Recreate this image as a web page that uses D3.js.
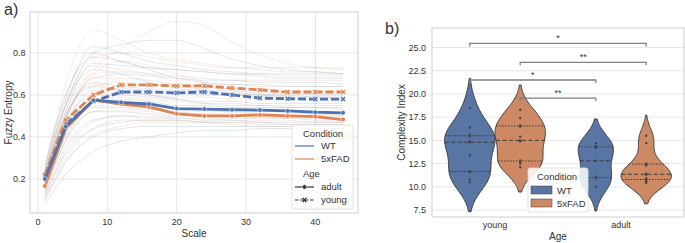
<!DOCTYPE html>
<html>
<head>
<meta charset="utf-8">
<script src="https://cdn.jsdelivr.net/npm/d3@7"></script>
<style>
  body { margin: 0; background: #fff; }
  text { font-family: "Liberation Sans", Arial, sans-serif; fill: #333; }
</style>
</head>
<body>
<script>
var W = 685, H = 243;

// ---------- panel a data ----------
var scales = [1, 4, 8, 12, 16, 20, 24, 28, 32, 36, 40, 44];
var conditions = ["WT", "5xFAD"];
var ages = ["adult", "young"];

// group means (thick lines)
var meanWTadult    = [0.20, 0.45, 0.575, 0.565, 0.557, 0.535, 0.533, 0.530, 0.528, 0.524, 0.518, 0.515];
var meanWTyoung    = [0.22, 0.46, 0.570, 0.614, 0.614, 0.610, 0.614, 0.600, 0.585, 0.582, 0.580, 0.580];
var mean5xFADadult = [0.167, 0.44, 0.576, 0.557, 0.543, 0.510, 0.500, 0.500, 0.505, 0.500, 0.497, 0.483];
var mean5xFADyoung = [0.22, 0.48, 0.600, 0.648, 0.648, 0.643, 0.643, 0.633, 0.624, 0.614, 0.614, 0.614];

// single animals (thin lines)
var subjWT = [
  [0.22, 0.55, 0.80, 0.84, 0.86, 0.86, 0.82, 0.77, 0.74, 0.72, 0.71, 0.70],
  [0.25, 0.58, 0.83, 0.80, 0.76, 0.74, 0.72, 0.71, 0.70, 0.70, 0.70, 0.70],
  [0.20, 0.52, 0.75, 0.74, 0.73, 0.72, 0.71, 0.70, 0.69, 0.68, 0.68, 0.68],
  [0.18, 0.48, 0.68, 0.70, 0.69, 0.68, 0.67, 0.67, 0.66, 0.66, 0.66, 0.65],
  [0.22, 0.50, 0.66, 0.64, 0.63, 0.62, 0.62, 0.62, 0.61, 0.61, 0.60, 0.60],
  [0.17, 0.45, 0.62, 0.63, 0.62, 0.61, 0.60, 0.60, 0.59, 0.59, 0.59, 0.58],
  [0.20, 0.46, 0.60, 0.60, 0.59, 0.58, 0.57, 0.57, 0.56, 0.56, 0.56, 0.56],
  [0.15, 0.42, 0.58, 0.58, 0.57, 0.55, 0.55, 0.54, 0.54, 0.54, 0.54, 0.53],
  [0.19, 0.44, 0.57, 0.56, 0.55, 0.54, 0.53, 0.52, 0.52, 0.52, 0.51, 0.51],
  [0.16, 0.40, 0.54, 0.54, 0.53, 0.52, 0.51, 0.51, 0.50, 0.50, 0.50, 0.50],
  [0.14, 0.38, 0.52, 0.52, 0.51, 0.50, 0.50, 0.49, 0.49, 0.49, 0.48, 0.48],
  [0.13, 0.35, 0.48, 0.50, 0.49, 0.49, 0.48, 0.48, 0.47, 0.47, 0.47, 0.47],
  [0.12, 0.32, 0.44, 0.47, 0.48, 0.48, 0.47, 0.47, 0.46, 0.46, 0.46, 0.46],
  [0.10, 0.28, 0.40, 0.44, 0.45, 0.45, 0.45, 0.45, 0.45, 0.45, 0.44, 0.44],
  [0.08, 0.22, 0.33, 0.38, 0.40, 0.42, 0.43, 0.43, 0.44, 0.44, 0.44, 0.44],
  [0.26, 0.60, 0.78, 0.76, 0.72, 0.68, 0.66, 0.65, 0.65, 0.64, 0.64, 0.64],
  [0.23, 0.55, 0.72, 0.70, 0.66, 0.63, 0.62, 0.61, 0.60, 0.60, 0.59, 0.59],
  [0.21, 0.50, 0.64, 0.62, 0.60, 0.58, 0.56, 0.55, 0.55, 0.54, 0.54, 0.54]
];
var subj5xFAD = [
  [0.24, 0.65, 0.91, 0.86, 0.80, 0.77, 0.75, 0.73, 0.72, 0.71, 0.71, 0.70],
  [0.20, 0.50, 0.72, 0.82, 0.90, 0.95, 0.93, 0.85, 0.79, 0.75, 0.73, 0.72],
  [0.22, 0.55, 0.78, 0.80, 0.78, 0.76, 0.74, 0.73, 0.73, 0.73, 0.73, 0.73],
  [0.27, 0.60, 0.80, 0.76, 0.73, 0.72, 0.71, 0.70, 0.70, 0.69, 0.69, 0.69],
  [0.20, 0.52, 0.70, 0.71, 0.70, 0.69, 0.68, 0.67, 0.67, 0.67, 0.67, 0.67],
  [0.18, 0.48, 0.68, 0.68, 0.67, 0.65, 0.65, 0.65, 0.64, 0.64, 0.64, 0.64],
  [0.17, 0.46, 0.64, 0.66, 0.65, 0.64, 0.63, 0.63, 0.63, 0.62, 0.62, 0.62],
  [0.21, 0.50, 0.65, 0.62, 0.60, 0.59, 0.59, 0.58, 0.58, 0.58, 0.57, 0.57],
  [0.15, 0.42, 0.58, 0.59, 0.58, 0.57, 0.56, 0.56, 0.55, 0.55, 0.55, 0.55],
  [0.16, 0.40, 0.55, 0.55, 0.54, 0.53, 0.52, 0.52, 0.51, 0.51, 0.51, 0.50],
  [0.14, 0.38, 0.52, 0.53, 0.52, 0.51, 0.50, 0.50, 0.49, 0.49, 0.49, 0.49],
  [0.12, 0.33, 0.47, 0.50, 0.50, 0.49, 0.49, 0.48, 0.48, 0.48, 0.47, 0.47],
  [0.10, 0.28, 0.41, 0.45, 0.47, 0.47, 0.47, 0.47, 0.47, 0.46, 0.46, 0.46],
  [0.11, 0.30, 0.44, 0.48, 0.48, 0.48, 0.47, 0.46, 0.45, 0.45, 0.44, 0.44],
  [0.19, 0.49, 0.70, 0.76, 0.74, 0.70, 0.66, 0.62, 0.60, 0.59, 0.58, 0.58],
  [0.23, 0.56, 0.74, 0.72, 0.70, 0.66, 0.62, 0.60, 0.60, 0.60, 0.61, 0.61]
];

var xTicksA = [0, 10, 20, 30, 40];
var yTicksA = [0.2, 0.4, 0.6, 0.8];

// ---------- panel b data ----------
var violinAges = ["young", "adult"];
var ciWTyoung    = [10.5, 10.8, 11.6, 11.7, 13.4, 14.8, 14.9, 15.4, 15.6, 16.4, 18.5];
var ci5xFADyoung = [12.1, 12.5, 12.7, 12.85, 14.9, 15.0, 15.4, 16.5, 16.6, 17.4, 18.3];
var ciWTadult    = [10.0, 10.9, 11.1, 12.8, 14.2, 14.4, 14.7];
var ci5xFADadult = [10.4, 10.6, 10.75, 10.9, 11.3, 11.4, 12.3, 12.5, 14.7, 15.5];
var yTicksB = [7.5, 10.0, 12.5, 15.0, 17.5, 20.0, 22.5, 25.0];

// significance brackets (value level in index units)
var sigFrom  = [["young", "WT"], ["young", "5xFAD"], ["young", "WT"], ["young", "5xFAD"]];
var sigTo    = [["adult", "5xFAD"], ["adult", "5xFAD"], ["adult", "WT"], ["adult", "WT"]];
var sigLevel = [25.44, 23.4, 21.5, 19.56];
var sigText  = ["*", "**", "*", "**"];

var colors = { "WT": "#4c72b0", "5xFAD": "#dd8452" };
var violinColors = { "WT": "#5975a4", "5xFAD": "#cc8963" };

var svg = d3.select("body").append("svg")
    .attr("width", W)
    .attr("height", H);

// ================= panel a =================
var xA = d3.scaleLinear().domain([-1.15, 46.15]).range([30, 358]);
var yA = d3.scaleLinear().domain([0.038, 0.995]).range([213, 12]);

var ga = svg.append("g");

ga.selectAll(".vgrid").data(xTicksA).enter().append("line")
    .attr("x1", d => xA(d)).attr("x2", d => xA(d))
    .attr("y1", 12).attr("y2", 213)
    .attr("stroke", "#e6e6e6").attr("stroke-width", 1);
ga.selectAll(".hgrid").data(yTicksA).enter().append("line")
    .attr("x1", 30).attr("x2", 358)
    .attr("y1", d => yA(d)).attr("y2", d => yA(d))
    .attr("stroke", "#e6e6e6").attr("stroke-width", 1);

var thinLine = d3.line()
    .x((d, i) => xA(scales[i]))
    .y(d => yA(d))
    .curve(d3.curveMonotoneX);

ga.selectAll(".wt").data(subjWT).enter().append("path")
    .attr("d", thinLine)
    .attr("fill", "none").attr("stroke", colors["WT"])
    .attr("stroke-width", 0.8).attr("stroke-opacity", 0.22);
ga.selectAll(".fad").data(subj5xFAD).enter().append("path")
    .attr("d", thinLine)
    .attr("fill", "none").attr("stroke", colors["5xFAD"])
    .attr("stroke-width", 0.8).attr("stroke-opacity", 0.22);

var means = [
  { cond: "WT", age: "young", vals: meanWTyoung },
  { cond: "5xFAD", age: "young", vals: mean5xFADyoung },
  { cond: "5xFAD", age: "adult", vals: mean5xFADadult },
  { cond: "WT", age: "adult", vals: meanWTadult }
];
var meanLine = d3.line()
    .x((d, i) => xA(scales[i]))
    .y(d => yA(d));

var markerCircle = d3.symbol().type(d3.symbolCircle).size(16);
var markerX = d3.symbol().type(d3.symbolCross).size(18);

means.forEach(function (m) {
  ga.append("path")
    .attr("d", meanLine(m.vals))
    .attr("fill", "none")
    .attr("stroke", colors[m.cond])
    .attr("stroke-width", 2.8)
    .attr("stroke-dasharray", m.age == "young" ? "8,3" : null);
  ga.selectAll(null).data(m.vals).enter().append("path")
    .attr("d", m.age == "young" ? markerX : markerCircle)
    .attr("transform", (d, i) => "translate(" + xA(scales[i]) + "," + yA(d) + ")" + (m.age == "young" ? " rotate(45)" : ""))
    .attr("fill", colors[m.cond])
    .attr("stroke", "#fff").attr("stroke-width", 0.5);
});

ga.append("rect")
    .attr("x", 30).attr("y", 12).attr("width", 328).attr("height", 201)
    .attr("fill", "none").attr("stroke", "#cfcfcf").attr("stroke-width", 1);

ga.selectAll(".xt").data(xTicksA).enter().append("text")
    .attr("x", d => xA(d)).attr("y", 225)
    .attr("text-anchor", "middle").attr("font-size", 9)
    .text(d => d);
ga.selectAll(".yt").data(yTicksA).enter().append("text")
    .attr("x", 25.5).attr("y", d => yA(d) + 3.2)
    .attr("text-anchor", "end").attr("font-size", 9)
    .text(d => d3.format(".1f")(d));

ga.append("text").attr("x", 194).attr("y", 237)
    .attr("text-anchor", "middle").attr("font-size", 10).text("Scale");
ga.append("text")
    .attr("transform", "translate(11.5,112.5) rotate(-90)")
    .attr("text-anchor", "middle").attr("font-size", 10).text("Fuzzy Entropy");
ga.append("text").attr("x", 4).attr("y", 15)
    .attr("font-size", 16).attr("fill", "#111").text("a)");

// legend a
var la = ga.append("g");
la.append("rect")
    .attr("x", 292).attr("y", 125).attr("width", 61).attr("height", 84).attr("rx", 2)
    .attr("fill", "#fff").attr("fill-opacity", 0.85)
    .attr("stroke", "#dcdcdc").attr("stroke-width", 0.8);
la.append("text").attr("x", 303).attr("y", 136.5).attr("font-size", 9.5).text("Condition");
conditions.forEach(function (c, i) {
  var y = 146 + i * 13;
  la.append("line").attr("x1", 295).attr("x2", 314).attr("y1", y).attr("y2", y)
    .attr("stroke", colors[c]).attr("stroke-width", 1.2);
  la.append("text").attr("x", 321).attr("y", y + 3.4).attr("font-size", 9.5).text(c);
});
la.append("text").attr("x", 303).attr("y", 176.5).attr("font-size", 9.5).text("Age");
ages.forEach(function (a, i) {
  var y = 187 + i * 13;
  la.append("line").attr("x1", 295).attr("x2", 314).attr("y1", y).attr("y2", y)
    .attr("stroke", "#333").attr("stroke-width", 1.2)
    .attr("stroke-dasharray", a == "young" ? "3.5,1.5" : null);
  la.append("path")
    .attr("d", a == "young" ? markerX : markerCircle)
    .attr("transform", "translate(304.5," + y + ")" + (a == "young" ? " rotate(45)" : ""))
    .attr("fill", "#333").attr("stroke", "#fff").attr("stroke-width", 0.5);
  la.append("text").attr("x", 321).attr("y", y + 3.4).attr("font-size", 9.5).text(a);
});

// ================= panel b =================
var xB = d3.scaleBand().domain(violinAges).range([432, 684]);
var hueB = d3.scaleBand().domain(conditions)
    .range([-xB.bandwidth() * 0.4, xB.bandwidth() * 0.4]);
var yB = d3.scaleLinear().domain([6.75, 27.1]).range([217, 28]);

var gb = svg.append("g");

gb.selectAll(".hgrid").data(yTicksB).enter().append("line")
    .attr("x1", 432).attr("x2", 684)
    .attr("y1", d => yB(d)).attr("y2", d => yB(d))
    .attr("stroke", "#e6e6e6").attr("stroke-width", 1);

function cx(age, cond) {
  return xB(age) + xB.bandwidth() / 2 + hueB(cond) + hueB.bandwidth() / 2;
}

// gaussian kde, scott bandwidth, cut = 2
function kde(vals) {
  var n = vals.length;
  var bw = d3.deviation(vals) * Math.pow(n, -0.2);
  var lo = d3.min(vals) - 2 * bw, hi = d3.max(vals) + 2 * bw;
  return d3.range(100).map(function (i) {
    var y = lo + (hi - lo) * i / 99;
    var dens = d3.mean(vals, v => Math.exp(-0.5 * Math.pow((y - v) / bw, 2))) / (bw * Math.sqrt(2 * Math.PI));
    return [y, dens];
  });
}

function percentile(vals, p) {
  var s = vals.slice().sort(d3.ascending);
  var idx = (s.length - 1) * p, lo = Math.floor(idx), hi = Math.ceil(idx);
  return s[lo] + (s[hi] - s[lo]) * (idx - lo);
}

var groups = [
  { age: "young", cond: "WT", vals: ciWTyoung },
  { age: "young", cond: "5xFAD", vals: ci5xFADyoung },
  { age: "adult", cond: "WT", vals: ciWTadult },
  { age: "adult", cond: "5xFAD", vals: ci5xFADadult }
];
var halfMax = hueB.bandwidth() / 2;

groups.forEach(function (g) {
  g.dens = kde(g.vals);
  g.maxD = d3.max(g.dens, d => d[1]);
});
// scale = "count", within each age group
violinAges.forEach(function (a) {
  var gs = groups.filter(g => g.age == a);
  var nMax = d3.max(gs, g => g.vals.length);
  gs.forEach(g => g.scale = (g.vals.length / nMax) * halfMax / g.maxD);
});

groups.forEach(function (g) {
  var c = cx(g.age, g.cond);
  var area = d3.area()
      .y(d => yB(d[0]))
      .x0(d => c - d[1] * g.scale)
      .x1(d => c + d[1] * g.scale);
  gb.append("path")
    .attr("d", area(g.dens))
    .attr("fill", violinColors[g.cond])
    .attr("stroke", "#3d3d3d").attr("stroke-width", 1);

  var ys = g.dens.map(d => d[0]), ds = g.dens.map(d => d[1]);
  var wAt = d3.scaleLinear().domain(ys).range(ds);
  [0.25, 0.5, 0.75].forEach(function (p) {
    var q = percentile(g.vals, p);
    var w = wAt(q) * g.scale;
    gb.append("line")
      .attr("x1", c - w).attr("x2", c + w)
      .attr("y1", yB(q)).attr("y2", yB(q))
      .attr("stroke", "#3a3a3a").attr("stroke-width", 1)
      .attr("stroke-dasharray", p == 0.5 ? "4,2.5" : "1.5,1.5");
  });
  gb.selectAll(null).data(g.vals).enter().append("circle")
    .attr("cx", c).attr("cy", d => yB(d)).attr("r", 1.2)
    .attr("fill", "#444");
});

// brackets
sigLevel.forEach(function (lv, i) {
  var x1 = cx(sigFrom[i][0], sigFrom[i][1]);
  var x2 = cx(sigTo[i][0], sigTo[i][1]);
  var y = yB(lv);
  gb.append("path")
    .attr("d", "M" + x1 + "," + (y + 3) + "V" + y + "H" + x2 + "V" + (y + 3))
    .attr("fill", "none").attr("stroke", "#7f7f7f").attr("stroke-width", 1.3);
  gb.append("text")
    .attr("x", (x1 + x2) / 2).attr("y", y - 2.5)
    .attr("text-anchor", "middle").attr("font-size", 9).attr("fill", "#111")
    .text(sigText[i]);
});

gb.append("rect")
    .attr("x", 432).attr("y", 28).attr("width", 252).attr("height", 189)
    .attr("fill", "none").attr("stroke", "#cfcfcf").attr("stroke-width", 1);

gb.selectAll(".yt").data(yTicksB).enter().append("text")
    .attr("x", 426).attr("y", d => yB(d) + 3.2)
    .attr("text-anchor", "end").attr("font-size", 9)
    .text(d => d3.format(".1f")(d));
gb.selectAll(".xt").data(violinAges).enter().append("text")
    .attr("x", d => xB(d) + xB.bandwidth() / 2).attr("y", 228)
    .attr("text-anchor", "middle").attr("font-size", 9)
    .text(d => d);
gb.append("text").attr("x", 558).attr("y", 239.5)
    .attr("text-anchor", "middle").attr("font-size", 10).text("Age");
gb.append("text")
    .attr("transform", "translate(404.5,122.5) rotate(-90)")
    .attr("text-anchor", "middle").attr("font-size", 10).text("Complexity Index");
gb.append("text").attr("x", 385).attr("y", 34)
    .attr("font-size", 16).attr("fill", "#111").text("b)");

// legend b
var lb = gb.append("g");
lb.append("rect")
    .attr("x", 528).attr("y", 168).attr("width", 60).attr("height", 44).attr("rx", 2)
    .attr("fill", "#fff").attr("fill-opacity", 0.85)
    .attr("stroke", "#dcdcdc").attr("stroke-width", 0.8);
lb.append("text").attr("x", 537).attr("y", 180).attr("font-size", 9.5).text("Condition");
conditions.forEach(function (c, i) {
  var y = 186 + i * 13;
  lb.append("rect").attr("x", 531).attr("y", y).attr("width", 21).attr("height", 8)
    .attr("fill", violinColors[c]).attr("stroke", "#3d3d3d").attr("stroke-width", 0.5);
  lb.append("text").attr("x", 557).attr("y", y + 7.5).attr("font-size", 9.5).text(c);
});
</script>
</body>
</html>
